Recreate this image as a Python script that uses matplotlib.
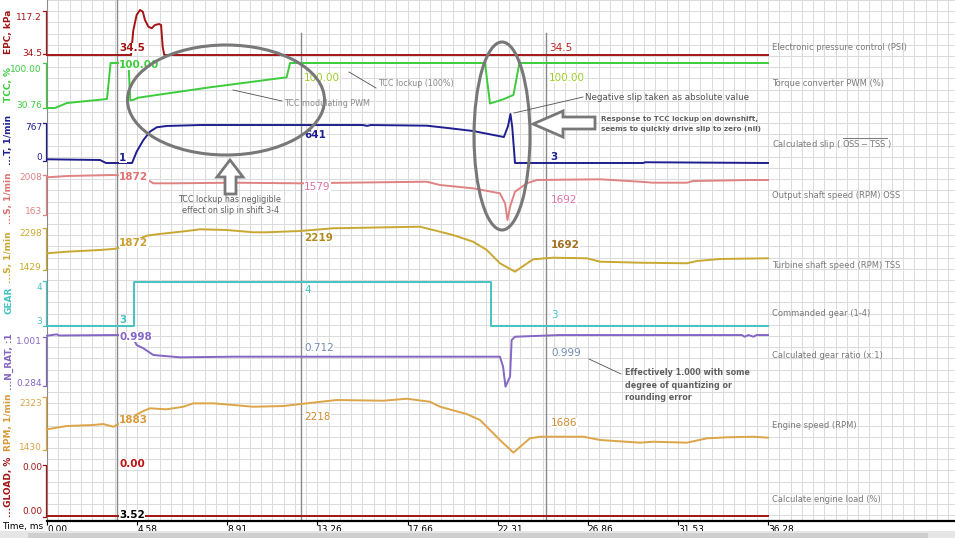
import matplotlib
matplotlib.use('Agg')
import matplotlib.pyplot as plt
from matplotlib.patches import Ellipse, Polygon, Rectangle
import numpy as np

plt.rcParams['font.family'] = ['DejaVu Sans']

W, H = 955, 538
T_END = 36.28
PX0, PX_END = 47, 768
PX_PER_S = (PX_END - PX0) / T_END
XMAX = (W - PX0) / PX_PER_S

# ---------------- data ----------------
time_tick_labels = ['0.00', '4.58', '8.91', '13.26', '17.66', '22.31', '26.86', '31.53', '36.28']
cursor_times = [3.52, 12.78, 25.11]

epc_t = [0.00, 4.23, 4.34, 4.51, 4.68, 4.82, 4.93, 5.10, 5.27, 5.43, 5.64, 5.74, 5.82, 5.90, 36.28]
epc_v = [34.5, 34.5, 79.2, 108.0, 117.2, 114.1, 98.8, 86.5, 83.6, 89.6, 91.5, 89.6, 49.8, 34.5, 34.5]

tcc_t = [0.00, 0.40, 1.00, 3.02, 3.20, 4.10, 4.19, 4.33, 4.59, 5.52, 8.20, 12.06, 12.23,
         22.04, 22.29, 22.96, 23.47, 23.77, 36.28]
tcc_v = [30.76, 30.76, 38.4, 44.6, 100, 100, 42.5, 43.1, 46.6, 50.8, 62.6, 78.0, 100,
         100, 37.7, 44.1, 50.8, 100, 100]

slip_t = [0.00, 2.67, 2.97, 4.28, 4.34, 4.51, 4.85, 5.18, 5.52, 6.02, 7.70, 15.9, 16.1, 16.3,
          19.11, 20.28, 21.44, 22.99, 23.20, 23.32, 23.41, 23.55, 30.0, 30.1, 36.28]
slip_v = [73, 59, 0, 0, 59, 222, 452, 616, 702, 728, 747, 747, 730, 747,
          734, 683, 629, 511, 728, 964, 708, 0, 0, 15, 0]

oss_t = [0.00, 1.00, 3.34, 3.60, 5.02, 5.35, 6.35, 9.36, 12.73, 19.11, 19.77, 21.44, 22.79,
         23.05, 23.17, 23.30, 23.55, 24.14, 24.64, 27.83, 29.84, 30.49, 32.20, 32.51, 35.37, 36.28]
oss_v = [1818, 1872, 1914, 1900, 1734, 1567, 1567, 1592, 1567, 1634, 1496, 1358, 1149,
         731, 33, 589, 1216, 1567, 1705, 1734, 1634, 1592, 1592, 1663, 1705, 1705]

tss_t = [0.00, 1.00, 2.67, 3.34, 3.52, 5.02, 5.52, 7.03, 7.70, 9.04, 10.38, 11.06, 12.73,
         14.39, 18.77, 19.43, 20.43, 21.44, 22.13, 22.79, 23.55, 24.46, 25.46, 27.17, 27.83,
         29.84, 32.20, 32.71, 33.87, 36.28]
tss_v = [1781, 1811, 1843, 1862, 1872, 2112, 2138, 2200, 2232, 2219, 2176, 2176, 2200,
         2251, 2281, 2219, 2125, 1999, 1843, 1593, 1435, 1668, 1698, 1687, 1623,
         1604, 1593, 1636, 1674, 1687]

gear_t = [0.00, 4.38, 22.34, 36.28]
gear_v = [3, 4, 3, 3]

ratio_t = [0.00, 0.49, 0.60, 3.34, 4.25, 4.51, 4.85, 5.35, 6.69, 9.36, 12.73, 22.79, 22.95,
           23.07, 23.30, 23.38, 23.55, 24.47, 25.81, 34.97, 35.10, 35.30, 35.55, 35.70, 36.28]
ratio_v = [0.989, 1.007, 0.992, 0.998, 0.998, 0.868, 0.825, 0.738, 0.708, 0.716, 0.716, 0.716,
           0.586, 0.326, 0.456, 0.933, 0.976, 0.985, 0.998, 0.998, 0.976, 0.998, 0.976, 0.998, 0.998]

rpm_t = [0.00, 0.99, 2.33, 2.83, 3.34, 3.51, 4.85, 5.18, 6.02, 6.86, 7.36, 8.37, 9.37, 10.38,
         11.89, 13.07, 14.58, 16.92, 18.10, 19.27, 19.78, 21.12, 21.79, 22.79, 23.47, 24.30,
         24.81, 26.99, 27.83, 29.84, 30.49, 32.20, 33.21, 34.22, 35.53, 36.28]
rpm_v = [1808, 1859, 1875, 1890, 1848, 1875, 2093, 2135, 2120, 2160, 2213, 2213, 2187, 2160,
         2171, 2213, 2265, 2254, 2285, 2238, 2160, 2046, 1953, 1641, 1443, 1667,
         1692, 1692, 1641, 1599, 1614, 1599, 1667, 1683, 1692, 1677]

load_t = [0.00, 36.28]
load_v = [0.0, 0.0]

# (name, t, v, color, value_top, px_top, value_bot, px_bot, drawstyle)
channels = [
    ('epc', epc_t, epc_v, '#a31515', 117.2, 10.0, 34.5, 55.0, 'default'),
    ('tcc', tcc_t, tcc_v, '#3ccc3c', 100.0, 63.0, 30.76, 108.0, 'default'),
    ('slip', slip_t, slip_v, '#1f1f8f', 767, 124.0, 0, 163.0, 'default'),
    ('oss', oss_t, oss_v, '#e08282', 2008, 172.75, 163, 216.9, 'default'),
    ('tss', tss_t, tss_v, '#c9a832', 2298, 225.8, 1429, 272.0, 'default'),
    ('gear', gear_t, gear_v, '#45c2c2', 4, 282.0, 3, 326.0, 'steps-post'),
    ('ratio', ratio_t, ratio_v, '#8466c4', 1.001, 334.8, 0.284, 389.9, 'default'),
    ('rpm', rpm_t, rpm_v, '#dba548', 2323, 396.3, 1430, 453.5, 'default'),
    ('load', load_t, load_v, '#a31515', 1.0, 466.0, 0.0, 516.0, 'default'),
]

# ---------------- figure ----------------
fig = plt.figure(figsize=(W / 100, H / 100), dpi=100)
fig.patch.set_facecolor('white')


def rect(l, t, r, b):
    return [l / W, 1 - b / H, (r - l) / W, (b - t) / H]


# grid background
gax = fig.add_axes(rect(47, 0, 955, 520))
gax.set_xlim(0, XMAX)
gax.set_ylim(0, 520)
gax.set_xticks(np.arange(0, XMAX, T_END / 64))
gax.set_yticks(np.arange(520, 0, -11.2))
gax.grid(True, color='#dcdcdc', lw=0.75)
gax.tick_params(length=0, labelbottom=False, labelleft=False)
for s in gax.spines.values():
    s.set_visible(False)
gax.spines['left'].set_visible(True)
gax.spines['left'].set_color('#8a8a8a')
for i, ct in enumerate(cursor_times):
    gax.axvline(ct, ymin=0, ymax=1.0 if i == 0 else (520 - 33) / 520, color='#8a8a8a', lw=1.0)

# channel strips
for name, t, v, col, vtop, ptop, vbot, pbot, ds in channels:
    ax = fig.add_axes(rect(47, ptop, 955, pbot))
    ax.set_xlim(0, XMAX)
    ax.set_ylim(vbot, vtop)
    ax.patch.set_alpha(0)
    ax.axis('off')
    ax.plot(t, v, color=col, lw=1.4, drawstyle=ds, clip_on=False, solid_joinstyle='round')

# time axis
tax = fig.add_axes(rect(47, 519.5, 955, 520.5))
tax.patch.set_alpha(0)
tax.set_xlim(0, XMAX)
tax.set_ylim(0, 1)
for k, s in tax.spines.items():
    s.set_visible(k == 'bottom')
tax.spines['bottom'].set_linewidth(1.6)
tax.spines['bottom'].set_color('black')
tax.set_yticks([])
tax.set_xticks([i * T_END / 8 for i in range(len(time_tick_labels))], time_tick_labels)
tax.tick_params(axis='x', length=3, width=0.8, pad=0.5, labelsize=6.5, colors='black')
for lbl in tax.get_xticklabels():
    lbl.set_ha('left')

# overlay for annotation and text
ov = fig.add_axes([0, 0, 1, 1])
ov.set_xlim(0, W)
ov.set_ylim(H, 0)
ov.axis('off')
ov.patch.set_alpha(0)

# scrollbar strip
ov.add_patch(Rectangle((0, 531), W, 7, facecolor='#e6e6e6', edgecolor='none'))
ov.add_patch(Rectangle((28, 533), 900, 5, facecolor='#cfcfcf', edgecolor='none'))
ov.text(2, 526, 'Time, ms', fontsize=6.5, va='center', ha='left', color='black')

# left scale brackets and labels
brackets = [
    ('#a31515', 11, 54, '117.2', 17, '34.5', 54),
    ('#3ccc3c', 63, 108, '100.00', 70, '30.76', 105),
    ('#1f1f8f', 123, 161, '767', 127, '0', 158),
    ('#e08282', 175, 215, '2008', 178, '163', 212),
    ('#c9a832', 228, 270, '2298', 233, '1429', 267),
    ('#45c2c2', 281, 326, '4', 287, '3', 322),
    ('#8466c4', 337, 386, '1.001', 342, '0.284', 383),
    ('#dba548', 397, 450, '2323', 404, '1430', 447),
    ('#a31515', 465, 517, '0.00', 468, '0.00', 512),
]
for col, yt, yb, lt, ylt, lb, ylb in brackets:
    ov.plot([43, 45.5, 45.5, 43], [yt, yt, yb, yb], color=col, lw=0.9)
    ov.text(42, ylt, lt, color=col, fontsize=6.5, ha='right', va='center')
    ov.text(42, ylb, lb, color=col, fontsize=6.5, ha='right', va='center')

axis_names = [
    ('EPC, kPa', 32, '#a31515'),
    ('TCC, %', 85, '#3ccc3c'),
    ('...T, 1/min', 140, '#1f1f8f'),
    ('...S, 1/min', 198, '#e07070'),
    ('...S, 1/min', 257, '#c9a832'),
    ('GEAR', 300, '#45c2c2'),
    ('...N_RAT, :1', 362, '#8466c4'),
    ('RPM, 1/min', 422, '#d89a3a'),
    ('...GLOAD, %', 487, '#a31515'),
]
for txt, yc, col in axis_names:
    ov.text(9, yc, txt, rotation=90, color=col, fontsize=6.5, fontweight='bold',
            ha='center', va='center')

# right-side channel descriptions
right_labels = [
    ('Electronic pressure control (PSI)', 48),
    ('Torque converter PWM (%)', 83),
    (r'Calculated slip ( $\overline{\mathrm{OSS - TSS}}$ )', 144),
    ('Output shaft speed (RPM) OSS', 195),
    ('Turbine shaft speed (RPM) TSS', 265),
    ('Commanded gear (1-4)', 313),
    ('Calculated gear ratio (x:1)', 355),
    ('Engine speed (RPM)', 425),
    ('Calculate engine load (%)', 500),
]
for txt, yc in right_labels:
    ov.text(772, yc, txt, color='#7a7a7a', fontsize=6, ha='left', va='center')

# cursor value labels
box = dict(facecolor='white', edgecolor='none', pad=0.3)
cursor_labels = [
    (119, 48, '34.5', '#a31515', 'bold'),
    (119, 65, '100.00', '#3ccc3c', 'bold'),
    (119, 158, '1', '#1f1f8f', 'bold'),
    (119, 177, '1872', '#e07070', 'bold'),
    (119, 243, '1872', '#c9a030', 'bold'),
    (119, 320, '3', '#45c2c2', 'bold'),
    (119, 337, '0.998', '#8466c4', 'bold'),
    (119, 420, '1883', '#d89a3a', 'bold'),
    (119, 464, '0.00', '#c01010', 'bold'),
    (119, 515, '3.52', 'black', 'bold'),
    (304, 78, '100.00', '#9acc2c', 'normal'),
    (304, 135, '641', '#1f1f8f', 'bold'),
    (304, 187, '1579', '#e070a0', 'normal'),
    (304, 238, '2219', '#b08a20', 'bold'),
    (304, 290, '4', '#45c2c2', 'normal'),
    (304, 348, '0.712', '#7088b0', 'normal'),
    (304, 417, '2218', '#d08a30', 'normal'),
    (549, 48, '34.5', '#c02020', 'normal'),
    (549, 78, '100.00', '#9acc2c', 'normal'),
    (550, 157, '3', '#1f1f8f', 'bold'),
    (551, 200, '1692', '#e070a0', 'normal'),
    (551, 245, '1692', '#a07020', 'bold'),
    (551, 315, '3', '#45c2c2', 'normal'),
    (551, 353, '0.999', '#7088b0', 'normal'),
    (551, 423, '1686', '#d08a30', 'normal'),
]
for x, y, txt, col, fw in cursor_labels:
    ov.text(x, y, txt, color=col, fontsize=7.5, fontweight=fw, ha='left', va='center',
            bbox=box, zorder=5)

# annotations
gray = '#787878'
ov.add_patch(Ellipse((226, 100), 197, 110, fill=False, edgecolor=gray, lw=2.2, zorder=6))
ov.add_patch(Ellipse((502, 136), 56, 188, fill=False, edgecolor=gray, lw=2.2, zorder=6))
ov.add_patch(Polygon([(230, 160), (217, 177), (225, 177), (225, 194), (236, 194), (236, 177),
                      (243, 177)], closed=True, facecolor='white', edgecolor=gray, lw=2.0, zorder=6))
ov.add_patch(Polygon([(533, 124), (563, 111), (563, 117), (595, 117), (595, 129), (563, 129),
                      (563, 137)], closed=True, facecolor='white', edgecolor=gray, lw=2.0, zorder=6))

ov.plot([233, 282], [90, 101], color='#505050', lw=0.6, zorder=6)
ov.text(284, 104, 'TCC modulating PWM', color='#8a8a8a', fontsize=5.8, va='center', zorder=6)
ov.plot([349, 376], [72, 88], color='#505050', lw=0.6, zorder=6)
ov.text(378, 84, 'TCC lockup (100%)', color='#8a8a8a', fontsize=5.8, va='center', zorder=6)
ov.text(230, 205, 'TCC lockup has negligible\neffect on slip in shift 3-4', color='#606060',
        fontsize=5.8, ha='center', va='center', linespacing=1.35, zorder=6)
ov.plot([514, 583], [113, 97], color='#505050', lw=0.6, zorder=6)
ov.text(585, 97, 'Negative slip taken as absolute value', color='#505050', fontsize=6.3,
        va='center', zorder=6)
ov.text(601, 124, 'Response to TCC lockup on downshift,\nseems to quickly drive slip to zero (nil)',
        color='#606060', fontsize=5.2, fontweight='bold', va='center', linespacing=1.6, zorder=6)
ov.plot([589, 621], [359, 374], color='#505050', lw=0.6, zorder=6)
ov.text(625, 385, 'Effectively 1.000 with some\ndegree of quantizing or\nrounding error',
        color='#606060', fontsize=5.8, fontweight='bold', va='center', linespacing=1.5, zorder=6)

fig.savefig('out.png', dpi=100, facecolor='white')
